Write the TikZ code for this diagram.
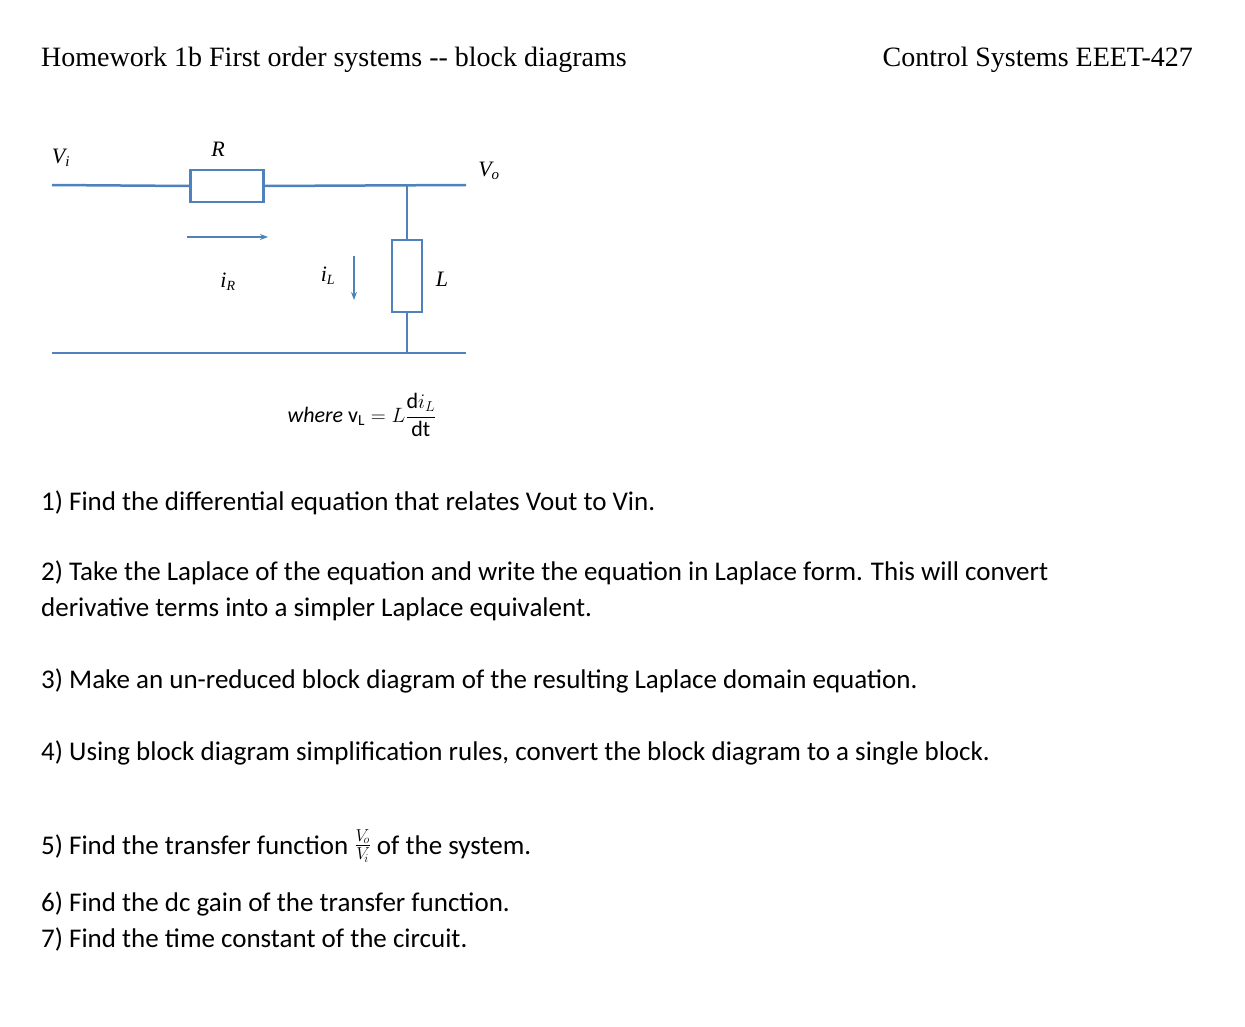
\documentclass[tikz,border=0pt]{standalone}
\usepackage{fontspec}
\setmainfont{Carlito}
\newfontfamily\serif{Liberation Serif}
\usetikzlibrary{arrows.meta}
\definecolor{wire}{HTML}{4F81BD}
\begin{document}
\begin{tikzpicture}[x=1pt,y=-1pt,
  wirel/.style={draw=wire,line width=2.5pt},
  txt/.style={anchor=base west,inner sep=0,font=\fontsize{27}{32}\selectfont},
  hd/.style={anchor=base west,inner sep=0,font=\serif\fontsize{28}{32}\selectfont},
  lab/.style={inner sep=0,font=\serif\itshape\fontsize{22}{26}\selectfont}]
\useasboundingbox (0,0) rectangle (1245,1027);
\node[hd] (h1) at (41,67) {Homework 1b First order systems -- block diagrams};
\node[hd,anchor=base east] (h2) at (1193,67) {Control Systems EEET-427};
% circuit
\coordinate (a) at (52,185); \coordinate (b) at (466,185);
\coordinate (c) at (52,353); \coordinate (d) at (466,353);
\node[wirel,minimum width=73pt,minimum height=32pt,inner sep=0] (R) at (227,186) {};
\node[wirel,minimum width=30pt,minimum height=72pt,inner sep=0] (Lb) at (407,276) {};
\draw[wirel] (a) -- (R.west); \draw[wirel] (R.east) -- (b);
\draw[wirel] (Lb.north) -- (407,185); \draw[wirel] (Lb.south) -- (407,353);
\draw[wirel] (c) -- (d);
\coordinate (ir1) at (187,237); \coordinate (ir2) at (268,237);
\draw[draw=wire,line width=2pt,-{Stealth[length=8pt]}] (ir1) -- (ir2);
\coordinate (il1) at (354,256); \coordinate (il2) at (354,300);
\draw[draw=wire,line width=2pt,-{Stealth[length=8pt]}] (il1) -- (il2);
\node[lab] (vi) at (61,158) {V\textsubscript{\fontsize{15}{16}\selectfont i}};
\node[lab] (r) at (218,149) {R};
\node[lab] (vo) at (489,171) {V\textsubscript{\fontsize{15}{16}\selectfont o}};
\node[lab] (iR) at (228,282) {i\textsubscript{\fontsize{14}{16}\selectfont R}};
\node[lab] (iL) at (328,276) {i\textsubscript{\fontsize{14}{16}\selectfont L}};
\node[lab] (l) at (442,279) {L};
\node[inner sep=0,font=\fontsize{22}{26}\selectfont] (eq) at (362,415)
  {$\mathit{where}\ \mathrm{v_L} = L\displaystyle\frac{\mathrm{d}i_L}{\mathrm{dt}}$};
% text
\node[txt] (t1) at (41,510) {1) Find the differential equation that relates Vout to Vin.};
\node[txt] (t2) at (41,580) {2) Take the Laplace of the equation and write the equation in Laplace form. This will convert};
\node[txt] (t2b) at (41,616) {derivative terms into a simpler Laplace equivalent.};
\node[txt] (t3) at (41,688) {3) Make an un-reduced block diagram of the resulting Laplace domain equation.};
\node[txt] (t4) at (41,760) {4) Using block diagram simplification rules, convert the block diagram to a single block.};
\node[txt] (t5) at (41,854) {5) Find the transfer function \raisebox{3pt}{\serif\fontsize{24}{26}\selectfont$\frac{V_{\!o}}{V_{\!i}}$} of the system.};
\node[txt] (t6) at (41,911) {6) Find the dc gain of the transfer function.};
\node[txt] (t7) at (41,947) {7) Find the time constant of the circuit.};
\end{tikzpicture}
\end{document}
